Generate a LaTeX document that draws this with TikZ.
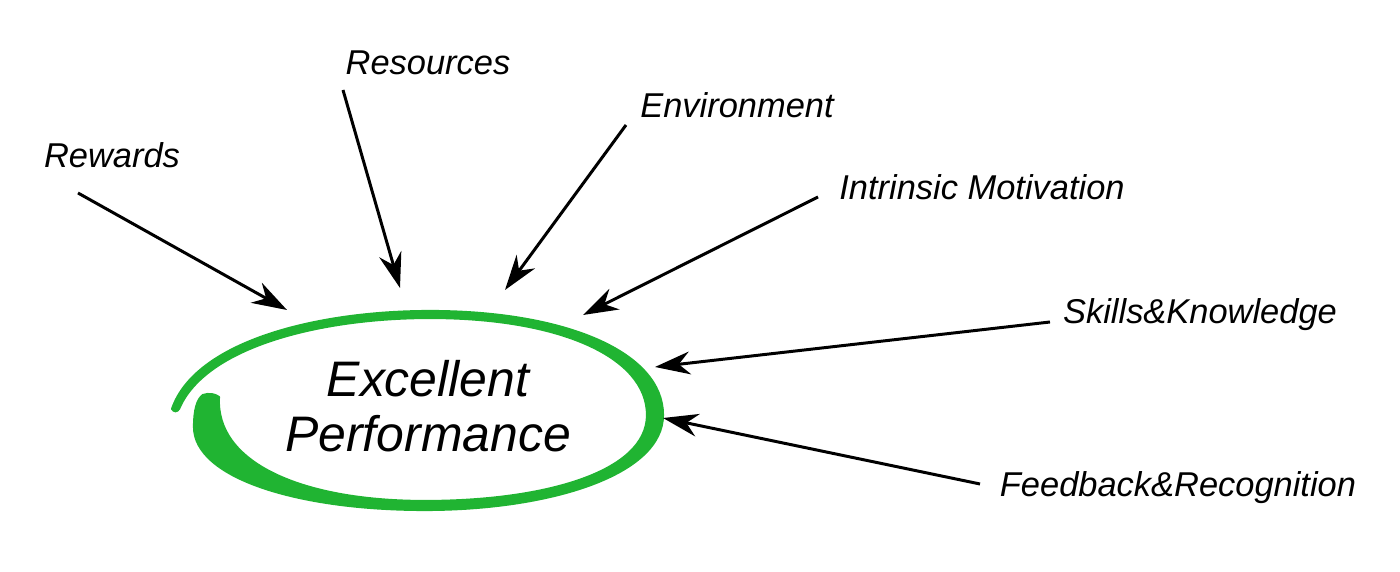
\documentclass[tikz,border=0pt]{standalone}
\usepackage{fontspec}
\setmainfont{Liberation Sans}
\usetikzlibrary{arrows.meta}
\definecolor{ringgreen}{RGB}{32,180,50}
\tikzset{
  lbl/.style={font=\fontsize{9.8}{11}\selectfont\itshape, inner sep=0pt},
  arr/.style={line width=0.85pt, -{Stealth[length=10pt,width=6.5pt,inset=3.2pt]}},
  ring/.style={fill=ringgreen, draw=ringgreen, line width=0.6pt, line join=round}
}
\begin{document}
\begin{tikzpicture}
\useasboundingbox (0,0) rectangle (14,5.72);
% ring (hand-drawn stroke of varying width)
\coordinate (S) at (1.72,1.63);
\path[ring] (S)
  .. controls (1.95,2.30) and (3.15,2.61) .. (4.30,2.61)
  .. controls (5.65,2.61) and (6.63,2.20) .. (6.63,1.57)
  .. controls (6.63,0.97) and (5.50,0.62) .. (4.25,0.62)
  .. controls (2.95,0.62) and (1.94,0.95) .. (1.94,1.45)
  .. controls (1.94,1.62) and (1.97,1.73) .. (2.03,1.77)
  .. controls (2.09,1.79) and (2.15,1.78) .. (2.19,1.75)
  .. controls (2.15,1.10) and (3.00,0.71) .. (4.25,0.71)
  .. controls (5.45,0.71) and (6.47,1.00) .. (6.47,1.57)
  .. controls (6.47,2.15) and (5.60,2.54) .. (4.30,2.54)
  .. controls (3.20,2.54) and (2.05,2.25) .. (1.79,1.63)
  .. controls (1.77,1.60) and (1.74,1.60) .. (S) -- cycle;
% centre text
\node[font=\fontsize{14.2}{15.6}\selectfont\itshape, align=center, inner sep=0pt] (main) at (4.28,1.66) {Excellent\\Performance};
% labels
\node[lbl] (rew) at (1.12,4.17) {Rewards};
\node[lbl] (res) at (4.28,5.09) {Resources};
\node[lbl] (env) at (7.37,4.67) {Environment};
\node[lbl] (int) at (9.82,3.85) {Intrinsic Motivation};
\node[lbl] (ski) at (12.00,2.57) {Skills\&Knowledge};
\node[lbl] (fee) at (11.78,0.84) {Feedback\&Recognition};
% arrow ends
\coordinate (rewA) at (0.78,3.79); \coordinate (rewB) at (2.87,2.62);
\coordinate (resA) at (3.43,4.82); \coordinate (resB) at (4.00,2.84);
\coordinate (envA) at (6.26,4.47); \coordinate (envB) at (5.05,2.82);
\coordinate (intA) at (8.18,3.75); \coordinate (intB) at (5.83,2.57);
\coordinate (skiA) at (10.50,2.50); \coordinate (skiB) at (6.55,2.05);
\coordinate (feeA) at (9.80,0.88); \coordinate (feeB) at (6.63,1.54);
\draw[arr] (rewA) -- (rewB);
\draw[arr] (resA) -- (resB);
\draw[arr] (envA) -- (envB);
\draw[arr] (intA) -- (intB);
\draw[arr] (skiA) -- (skiB);
\draw[arr] (feeA) -- (feeB);
\end{tikzpicture}
\end{document}
